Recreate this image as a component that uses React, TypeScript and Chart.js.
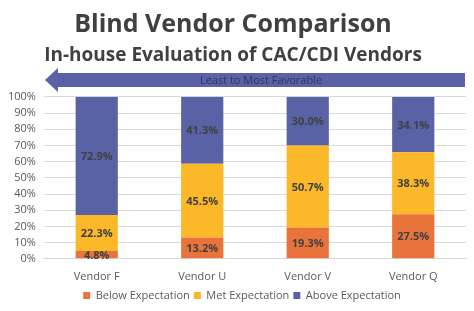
import React, { useEffect, useRef } from "react";
import { Chart, registerables } from "chart.js";

Chart.register(...registerables);

const categories = ["Vendor F", "Vendor U", "Vendor V", "Vendor Q"];
const below = [4.8, 13.2, 19.3, 27.5];
const met = [22.3, 45.5, 50.7, 38.3];
const above = [72.9, 41.3, 30.0, 34.1];
const seriesNames = ["Below Expectation", "Met Expectation", "Above Expectation"];
const titleText = "Blind Vendor Comparison";
const subtitleText = "In-house Evaluation of CAC/CDI Vendors";
const arrowText = "Least to Most Favorable";

const FONT = "'Open Sans', 'Noto Sans', sans-serif";

const labelPlugin = {
  id: "barLabels",
  afterDatasetsDraw(chart: any) {
    const ctx = chart.ctx;
    ctx.save();
    ctx.font = `bold 11px ${FONT}`;
    ctx.fillStyle = "#404040";
    ctx.textAlign = "center";
    ctx.textBaseline = "middle";
    chart.data.datasets.forEach((ds: any, i: number) => {
      const meta = chart.getDatasetMeta(i);
      meta.data.forEach((bar: any, j: number) => {
        const v = ds.data[j];
        const y = (bar.y + bar.base) / 2;
        ctx.fillText(v.toFixed(1) + "%", bar.x, y + 1);
      });
    });
    ctx.restore();
  },
};

const arrowPlugin = {
  id: "arrow",
  afterLayout(chart: any) {
    if (chart.legend) {
      chart.legend.left += 9;
      chart.legend.right += 9;
    }
  },
  afterDraw(chart: any) {
    const ctx = chart.ctx;
    const a = chart.chartArea;
    const left = a.left + 1;
    const right = a.right - 1;
    const cy = 80;
    ctx.save();
    ctx.fillStyle = "#5a62a6";
    ctx.beginPath();
    ctx.moveTo(left, cy);
    ctx.lineTo(left + 13, cy - 12);
    ctx.lineTo(left + 13, cy - 7);
    ctx.lineTo(right, cy - 7);
    ctx.lineTo(right, cy + 7);
    ctx.lineTo(left + 13, cy + 7);
    ctx.lineTo(left + 13, cy + 12);
    ctx.closePath();
    ctx.fill();
    ctx.font = `11px ${FONT}`;
    ctx.fillStyle = "#2e3466";
    ctx.textAlign = "center";
    ctx.textBaseline = "middle";
    ctx.fillText(arrowText, (left + right) / 2 + 6, cy + 1);
    ctx.restore();
  },
};

export default function App() {
  const ref = useRef<HTMLCanvasElement>(null);
  useEffect(() => {
    document.body.style.margin = "0";
    const chart = new Chart(ref.current!, {
      type: "bar",
      data: {
        labels: categories,
        datasets: [
          { label: seriesNames[0], data: below, backgroundColor: "#e8743b" },
          { label: seriesNames[1], data: met, backgroundColor: "#fbb829" },
          { label: seriesNames[2], data: above, backgroundColor: "#5a62a6" },
        ],
      },
      options: {
        animation: false,
        responsive: false,
        maintainAspectRatio: false,
        layout: { padding: { left: 0, right: 8, top: 8, bottom: 0 } },
        datasets: { bar: { barPercentage: 0.4, categoryPercentage: 1 } } as any,
        scales: {
          x: {
            stacked: true,
            grid: { display: false },
            border: { color: "#d9d9d9" },
            ticks: { color: "#595959", font: { family: FONT, size: 11 }, padding: 3 },
          },
          y: {
            stacked: true,
            min: 0,
            max: 100,
            ticks: {
              stepSize: 10,
              autoSkip: false,
              color: "#595959",
              font: { family: FONT, size: 11 },
              callback: (v: any) => v + "%",
              padding: 8,
            },
            grid: { color: "#d9d9d9", drawTicks: false },
            border: { display: false },
          },
        },
        plugins: {
          title: {
            display: true,
            text: titleText,
            color: "#404040",
            font: { family: FONT, size: 25, weight: "bold" },
            padding: { top: 2, bottom: 4 },
          },
          subtitle: {
            display: true,
            text: subtitleText,
            color: "#404040",
            font: { family: FONT, size: 19, weight: "bold" },
            padding: { top: 0, bottom: 30 },
          },
          legend: {
            position: "bottom",
            labels: {
              color: "#595959",
              font: { family: FONT, size: 11 },
              boxWidth: 7,
              boxHeight: 7,
              padding: 4,
            },
          },
          tooltip: { enabled: false },
        },
      },
      plugins: [labelPlugin, arrowPlugin],
    });
    return () => chart.destroy();
  }, []);
  return (
    <div style={{ width: 474, height: 311 }}>
      <canvas ref={ref} width={474} height={311} />
    </div>
  );
}
